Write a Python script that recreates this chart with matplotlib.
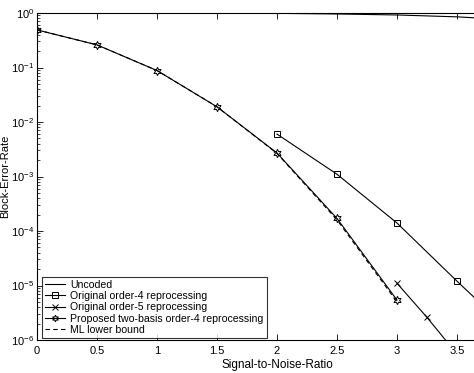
import matplotlib.pyplot as plt
from matplotlib.ticker import LogLocator, NullFormatter

plt.rcParams['font.family'] = ['Liberation Sans', 'DejaVu Sans']
plt.rcParams['mathtext.default'] = 'regular'
plt.rcParams['font.size'] = 8

snr_uncoded = [0, 0.5, 1, 1.5, 2, 2.5, 3, 3.5, 4]
ber_uncoded = [1.0, 1.0, 0.999, 0.995, 0.985, 0.96, 0.92, 0.85, 0.74]

snr_ord4 = [2, 2.5, 3, 3.5, 4]
ber_ord4 = [6.0e-3, 1.1e-3, 1.4e-4, 1.2e-5, 1.1e-6]

snr_ord5 = [3, 3.25, 3.5]
ber_ord5 = [1.1e-5, 2.6e-6, 5.5e-7]

snr_prop = [0, 0.5, 1, 1.5, 2, 2.5, 3]
ber_prop = [0.49, 0.26, 0.088, 0.019, 2.7e-3, 1.7e-4, 5.4e-6]

snr_ml = [0, 0.5, 1, 1.5, 2, 2.5, 3]
ber_ml = [0.49, 0.26, 0.088, 0.019, 2.65e-3, 1.6e-4, 5.0e-6]

fig = plt.figure(figsize=(4.74, 3.73), dpi=100)
ax = fig.add_axes([37 / 474, 33 / 373, 480 / 474, 327 / 373])

star = (6, 1, 0)
ax.plot(snr_uncoded, ber_uncoded, 'k-', lw=0.8, label='Uncoded')
ax.plot(snr_ord4, ber_ord4, 'k-', lw=0.8, marker='s', ms=5, mfc='none',
        mew=0.7, label='Original order-4 reprocessing')
ax.plot(snr_ord5, ber_ord5, 'k-', lw=0.8, marker='x', ms=5, mew=0.7,
        label='Original order-5 reprocessing')
ax.plot(snr_prop, ber_prop, 'k-', lw=0.8, marker=star, ms=6, mfc='none',
        mew=0.7, label='Proposed two-basis order-4 reprocessing')
ax.plot(snr_ml, ber_ml, 'k--', lw=0.8, dashes=(4, 3), label='ML lower bound')

ax.set_yscale('log')
ax.set_xlim(0, 4)
ax.set_ylim(1e-6, 1)
ax.set_xticks([0, 0.5, 1, 1.5, 2, 2.5, 3, 3.5])
ax.set_xticklabels(['0', '0.5', '1', '1.5', '2', '2.5', '3', '3.5'])
ax.yaxis.set_major_locator(LogLocator(base=10, numticks=10))
ax.yaxis.set_minor_locator(LogLocator(base=10, subs=range(2, 10), numticks=20))
ax.yaxis.set_minor_formatter(NullFormatter())
ax.tick_params(which='both', direction='in', top=True, right=True, labelsize=8)
ax.tick_params(axis='x', which='major', length=4, width=0.6, pad=4)
ax.tick_params(axis='y', which='major', length=4, width=0.6, pad=2)
ax.tick_params(which='minor', length=2, width=0.5)
for s in ax.spines.values():
    s.set_linewidth(0.8)

ax.set_xlabel('Signal-to-Noise-Ratio', fontsize=8.5)
ax.set_ylabel('Block-Error-Rate', fontsize=8)
ax.xaxis.set_label_coords(240 / 480, -19 / 327)
ax.yaxis.set_label_coords(-27 / 480, 0.5)

leg = ax.legend(loc='lower left', fontsize=7.6, frameon=True, fancybox=False,
                edgecolor='black', handlelength=1.9, handletextpad=0.5,
                labelspacing=0.12, borderpad=0.3, borderaxespad=0.0,
                markerscale=0.8, bbox_to_anchor=(5 / 480, 2 / 327))
leg.get_frame().set_linewidth(0.8)

fig.savefig('out.png', dpi=100)
